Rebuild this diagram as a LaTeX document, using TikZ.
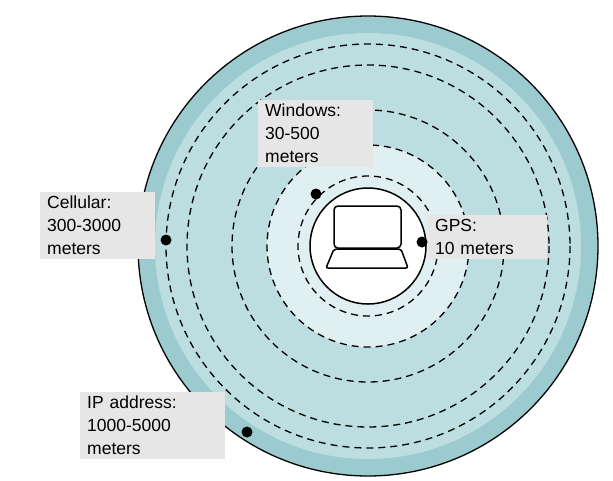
\documentclass[tikz,border=0pt]{standalone}
\usepackage{fontspec}
\setmainfont{Liberation Sans}
\usetikzlibrary{positioning}
\definecolor{darkteal}{HTML}{9CCBCF}
\definecolor{midteal}{HTML}{BCDEE0}
\definecolor{paleteal}{HTML}{E0EFF2}
\definecolor{labelgray}{HTML}{E6E6E6}
\tikzset{
ring/.style={draw, dashed, line width=1.3pt, dash pattern=on 7pt off 5pt},
dot/.style={circle, fill=black, inner sep=0pt, minimum size=11pt},
tag/.style={
  fill=labelgray,
  align=left,
  anchor=north west,
  inner xsep=7pt,
  inner ysep=4pt,
  font=\fontsize{17.5}{23}\selectfont}
}
\begin{document}
\begin{tikzpicture}[x=1pt,y=-1pt]
    \useasboundingbox (0,0) rectangle (613,480);
    \coordinate (c) at (368,246);
    \fill[darkteal] (c) circle (230);
    \fill[midteal] (c) circle (213);
    \fill[paleteal] (c) circle (101);
    \draw[line width=1.3pt] (c) circle (230);
    % dashed rings
    \foreach \r in {202,181,136,101,70}
      \draw[ring] (c) circle (\r);
    \draw[line width=1.5pt, fill=white] (c) circle (58);
    % laptop
    \draw[line width=1.5pt, rounded corners=4pt] (334,206) rectangle (401,248);
    \draw[line width=1.5pt, rounded corners=2pt, fill=white] (334,249) -- (401,249) -- (408,268) -- (326,268) -- cycle;
    % labels
    \node[tag, text width=101pt] (win) at (258,100) {Windows:\\30-500\\meters};
    \node[tag, text width=101pt] (cell) at (40,192) {Cellular:\\300-3000\\meters};
    \node[tag, text width=105pt] (gps) at (428,215) {GPS:\\10 meters};
    \node[tag, text width=131pt] (ip) at (80,392) {IP address:\\1000-5000\\meters};
    % markers
    \node[dot] (dwin) at (316,194) {};
    \node[dot] (dcell) at (166,240) {};
    \node[dot] (dgps) at (422,242) {};
    \node[dot] (dip) at (247,432) {};
\end{tikzpicture}
\end{document}
